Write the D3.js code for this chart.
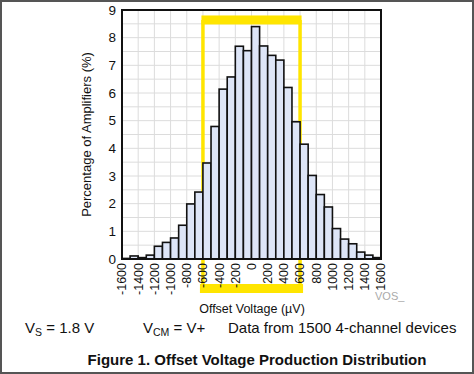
<!DOCTYPE html>
<html lang="en">
<head>
    <meta charset="UTF-8">
    <title>Offset Voltage Production Distribution</title>
    <script src="https://d3js.org/d3.v7.min.js"></script>
    <style>
        body {
            margin: 0;
            background: #fff;
            font-family: Arial, "Liberation Sans", sans-serif;
        }
        .grid line { stroke: #dcdcdc; stroke-width: 1px; }
        .bar { fill: #dde5f7; stroke: #111; stroke-width: 1.6px; }
        .tick-label { font-size: 12.5px; fill: #111; }
        .note { font-size: 15px; fill: #111; }
    </style>
</head>
<body>
    <svg id="chart" width="474" height="374"></svg>
    <script>
        // Histogram bins (lower edge, uV) and percentage of amplifiers
        const binStarts = d3.range(-1600, 1600, 100);
        const percents = [
            0.02, 0.11, 0.05, 0.14, 0.46, 0.60, 0.76, 1.22, 1.99, 2.42,
            3.47, 4.79, 6.14, 6.58, 7.69, 7.53, 8.40, 7.70, 7.36, 7.19,
            6.20, 4.96, 4.15, 3.02, 2.33, 1.88, 1.10, 0.72, 0.55, 0.25,
            0.14, 0.05
        ];
        const xTicks = d3.range(-1600, 1601, 200);
        const yTicks = d3.range(0, 10, 1);
        const yGrid = d3.range(0, 9.01, 0.5);
        const boxRange = [-600, 600];   // yellow highlight box
        const boxTop = 8.64;

        const width = 474, height = 374;
        const svg = d3.select("#chart");

        const x = d3.scaleLinear().domain([-1600, 1600]).range([122, 381]);
        const y = d3.scaleLinear().domain([0, 9]).range([259, 10]);

        // frame of the screenshot
        svg.append("rect").attr("x", 0).attr("y", 0).attr("width", width).attr("height", height)
            .attr("fill", "none").attr("stroke", "#555").attr("stroke-width", 4);

        // gridlines
        const grid = svg.append("g").attr("class", "grid");
        grid.selectAll(".v").data(xTicks).enter().append("line")
            .attr("x1", d => x(d)).attr("x2", d => x(d))
            .attr("y1", y(9)).attr("y2", y(0));
        grid.selectAll(".h").data(yGrid).enter().append("line")
            .attr("x1", x(-1600)).attr("x2", x(1600))
            .attr("y1", d => y(d)).attr("y2", d => y(d));

        const yellow = "#ffe500";
        const bandBottom = y(0) + 34;

        // yellow verticals (behind bars)
        svg.selectAll(".yv").data(boxRange).enter().append("line")
            .attr("x1", d => x(d)).attr("x2", d => x(d))
            .attr("y1", y(boxTop)).attr("y2", bandBottom)
            .attr("stroke", yellow).attr("stroke-width", 3.5);

        // bars
        svg.selectAll(".bar").data(percents).enter().append("rect")
            .attr("class", "bar")
            .attr("x", (d, i) => x(binStarts[i]))
            .attr("width", (d, i) => x(binStarts[i] + 100) - x(binStarts[i]))
            .attr("y", d => y(d))
            .attr("height", d => y(0) - y(d));

        // plot border
        svg.append("rect")
            .attr("x", x(-1600)).attr("y", y(9))
            .attr("width", x(1600) - x(-1600)).attr("height", y(0) - y(9))
            .attr("fill", "none").attr("stroke", "#111").attr("stroke-width", 2);

        // yellow top and bottom bands
        svg.append("rect")
            .attr("x", x(boxRange[0]) - 1.5).attr("width", x(boxRange[1]) - x(boxRange[0]) + 3)
            .attr("y", y(boxTop) - 4.5).attr("height", 9)
            .attr("fill", yellow);
        svg.append("rect")
            .attr("x", x(boxRange[0]) - 3).attr("width", x(boxRange[1]) - x(boxRange[0]) + 6)
            .attr("y", bandBottom - 9).attr("height", 9)
            .attr("fill", yellow);

        // y tick labels
        svg.selectAll(".ytl").data(yTicks).enter().append("text")
            .attr("class", "tick-label")
            .attr("x", x(-1600) - 6).attr("y", d => y(d))
            .attr("dy", "0.35em").attr("text-anchor", "end")
            .style("font-size", "13.5px")
            .text(d => d);

        // x tick labels (rotated)
        svg.selectAll(".xtl").data(xTicks).enter().append("text")
            .attr("class", "tick-label")
            .attr("transform", d => `translate(${x(d)},${y(0) + 4}) rotate(-90)`)
            .attr("dy", "0.35em").attr("text-anchor", "end")
            .text(d => d);

        // axis titles
        svg.append("text")
            .attr("transform", `translate(86,${(y(0) + y(9)) / 2}) rotate(-90)`)
            .attr("text-anchor", "middle").attr("dy", "0.35em")
            .style("font-size", "13px").attr("fill", "#111")
            .text("Percentage of Amplifiers (%)");
        svg.append("text")
            .attr("x", 252).attr("y", 312.5).attr("text-anchor", "middle")
            .style("font-size", "12.5px").attr("fill", "#111")
            .text("Offset Voltage (\u00b5V)");
        svg.append("text")
            .attr("x", 375).attr("y", 300)
            .style("font-size", "11px").attr("fill", "#aaa")
            .text("VOS_");

        // conditions line
        const cond = svg.append("text").attr("class", "note").attr("y", 333);
        cond.append("tspan").attr("x", 25).text("V");
        cond.append("tspan").attr("dy", 3).style("font-size", "10.5px").text("S");
        cond.append("tspan").attr("dy", -3).text(" = 1.8 V");
        const cond2 = svg.append("text").attr("class", "note").attr("y", 333);
        cond2.append("tspan").attr("x", 143).text("V");
        cond2.append("tspan").attr("dy", 3).style("font-size", "10.5px").text("CM");
        cond2.append("tspan").attr("dy", -3).text(" = V+");
        svg.append("text").attr("class", "note")
            .attr("x", 228).attr("y", 333)
            .text("Data from 1500 4-channel devices");

        // figure caption
        svg.append("text")
            .attr("x", 257).attr("y", 365).attr("text-anchor", "middle")
            .style("font-size", "15px").style("font-weight", "bold").attr("fill", "#111")
            .text("Figure 1. Offset Voltage Production Distribution");
    </script>
</body>
</html>
